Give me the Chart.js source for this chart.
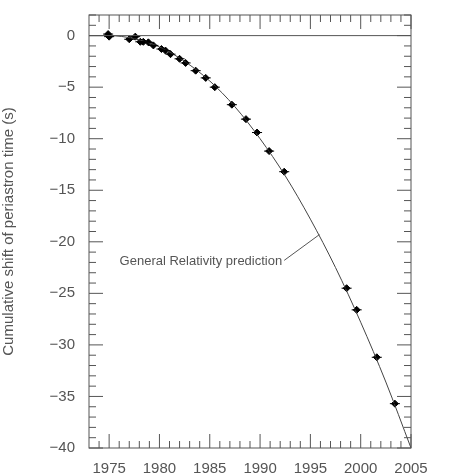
<!DOCTYPE html>
<html><head><meta charset="utf-8">
<script src="https://cdn.jsdelivr.net/npm/chart.js@4/dist/chart.umd.min.js"></script>
<style>body{margin:0;background:#fff}#w{width:474px;height:474px}</style></head>
<body><div id="w"><canvas id="c"></canvas></div>
<script>
const obsYears=[1974.9,1975.0,1977.0,1977.6,1978.1,1978.4,1978.9,1979.4,1980.2,1980.6,1981.1,1982.0,1982.6,1983.6,1984.6,1985.5,1987.2,1988.6,1989.7,1990.9,1992.4,1998.6,1999.6,2001.6,2003.4];
const obsShift=[0.15,-0.1,-0.35,-0.1,-0.6,-0.6,-0.65,-0.95,-1.3,-1.45,-1.8,-2.25,-2.65,-3.4,-4.1,-5.0,-6.7,-8.1,-9.4,-11.2,-13.2,-24.5,-26.6,-31.2,-35.7];
const grYears=[1973,1975,1977.5,1980,1982.5,1985,1987.5,1990,1992.5,1995,1997.5,2000,2002.5,2005];
const grShift=[0,0,-0.3,-1.1,-2.5,-4.4,-6.9,-10.0,-13.6,-17.8,-22.5,-27.8,-33.6,-40.0];
const xTickLabels=['1975','1980','1985','1990','1995','2000','2005'];
const labelText='General Relativity prediction';
const grey='#555';
const ticks={id:'ticks',afterDraw(ch){
 const c=ch.ctx,a=ch.chartArea,x=ch.scales.x,y=ch.scales.y;
 c.save();c.strokeStyle=grey;c.lineWidth=1;
 c.strokeRect(a.left,a.top,a.right-a.left,a.bottom-a.top);
 c.beginPath();
 for(let v=1974;v<=2005;v++){const p=x.getPixelForValue(v),L=v%5===0?14:7;
  c.moveTo(p,a.bottom);c.lineTo(p,a.bottom-L);c.moveTo(p,a.top);c.lineTo(p,a.top+L);}
 for(let v=-40;v<=2;v++){const p=y.getPixelForValue(v),L=v%5===0?14:7;
  c.moveTo(a.left,p);c.lineTo(a.left+L,p);c.moveTo(a.right,p);c.lineTo(a.right-L,p);}
 const z=y.getPixelForValue(0);c.moveTo(a.left,z);c.lineTo(a.right,z);
 c.moveTo(x.getPixelForValue(1995.9),y.getPixelForValue(-19.3));
 c.lineTo(x.getPixelForValue(1992.4),y.getPixelForValue(-21.8));
 c.stroke();
 c.strokeStyle='#000';c.beginPath();
 obsYears.forEach((t,i)=>{const py=y.getPixelForValue(obsShift[i]);
  c.moveTo(x.getPixelForValue(t-0.5),py);c.lineTo(x.getPixelForValue(t+0.5),py);});
 c.stroke();
 c.fillStyle=grey;c.font='13px "Liberation Sans", Arial';c.textAlign='right';c.textBaseline='middle';
 c.fillText(labelText,x.getPixelForValue(1992.2),y.getPixelForValue(-21.9));
 c.restore();}};
new Chart(document.getElementById('c'),{
 type:'scatter',
 data:{datasets:[
  {type:'line',data:grYears.map((t,i)=>({x:t,y:grShift[i]})),borderColor:'#444',borderWidth:1,pointRadius:0,cubicInterpolationMode:'monotone'},
  {data:obsYears.map((t,i)=>({x:t,y:obsShift[i]})),backgroundColor:'#000',borderColor:'#000',pointStyle:'rectRot',pointRadius:3.5}
 ]},
 plugins:[ticks],
 options:{animation:false,responsive:true,maintainAspectRatio:false,
  layout:{padding:{top:-13,right:63,left:0,bottom:0}},
  plugins:{legend:{display:false},tooltip:{enabled:false}},
  scales:{
   x:{type:'linear',min:1973,max:2005,grid:{display:false},border:{display:false},
    afterFit:s=>{s.height=26},
    afterBuildTicks:s=>{s.ticks=xTickLabels.map(v=>({value:+v}))},
    ticks:{color:grey,font:{size:15,family:'"Liberation Sans", Arial'},padding:4,maxRotation:0,callback:v=>String(v)}},
   y:{min:-40,max:2,grid:{display:false},border:{display:false},
    afterFit:s=>{s.width=89},
    afterBuildTicks:s=>{s.ticks=[0,-5,-10,-15,-20,-25,-30,-35,-40].map(v=>({value:v}))},
    ticks:{color:grey,font:{size:15,family:'"Liberation Sans", Arial'},padding:6,callback:v=>v===0?'0':'\u2212'+Math.abs(v)},
    title:{display:true,text:'Cumulative shift of periastron time (s)',color:grey,font:{size:15,family:'"Liberation Sans", Arial'},padding:{top:0,bottom:12}}}
  }}});
</script></body></html>
